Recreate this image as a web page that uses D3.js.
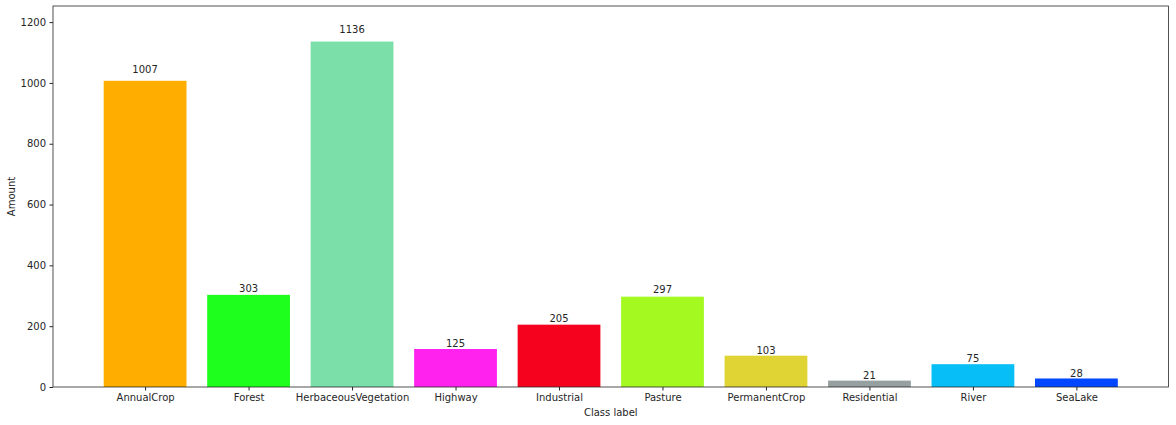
<!DOCTYPE html>
<html>
<head>
<meta charset="utf-8">
<script src="https://cdn.jsdelivr.net/npm/d3@7"></script>
<style>
  body { margin: 0; background: #fff; }
  svg text { font-family: "DejaVu Sans", sans-serif; fill: #262626; }
  .axis path, .axis line { stroke: #262626; }
</style>
</head>
<body>
<div id="chart"></div>
<script>
var categories = ["AnnualCrop", "Forest", "HerbaceousVegetation", "Highway", "Industrial",
                  "Pasture", "PermanentCrop", "Residential", "River", "SeaLake"];
var amounts = [1007, 303, 1136, 125, 205, 297, 103, 21, 75, 28];
var colors = ["#ffae00", "#1eff1e", "#7adfa8", "#ff22ee", "#f5031e",
              "#a3f920", "#e0d434", "#97a0a0", "#08bef6", "#0047ff"];
var yTicks = [0, 200, 400, 600, 800, 1000, 1200];

var width = 1176, height = 425;
var plotLeft = 53, plotRight = 1168.5, plotTop = 6, plotBottom = 387;

var svg = d3.select("#chart").append("svg")
    .attr("width", width)
    .attr("height", height);

// matplotlib style: bar positions 0..9, width 0.8, 5% margins
var x = d3.scaleLinear().domain([-0.89, 9.89]).range([plotLeft, plotRight]);
var y = d3.scaleLinear().domain([0, 1253]).range([plotBottom, plotTop]);
var barW = 0.8;

svg.append("g").selectAll("rect")
    .data(amounts)
    .enter()
    .append("rect")
    .attr("x", function(d, i){ return x(i - barW / 2); })
    .attr("width", function(){ return x(barW) - x(0); })
    .attr("y", function(d){ return y(d); })
    .attr("height", function(d){ return y(0) - y(d); })
    .attr("fill", function(d, i){ return colors[i]; });

svg.append("g").selectAll("text")
    .data(amounts)
    .enter()
    .append("text")
    .attr("x", function(d, i){ return x(i); })
    .attr("y", function(d){ return y(d * 1.02) - 1.5; })
    .attr("text-anchor", "middle")
    .attr("font-size", 10)
    .text(function(d){ return d; });

var xAxis = svg.append("g")
    .attr("class", "axis")
    .attr("transform", "translate(0," + plotBottom + ")")
    .call(d3.axisBottom(x)
        .tickValues(d3.range(categories.length))
        .tickFormat(function(i){ return categories[i]; })
        .tickSize(3.5)
        .tickPadding(3.5));
xAxis.select(".domain").remove();

var yAxis = svg.append("g")
    .attr("class", "axis")
    .attr("transform", "translate(" + plotLeft + ",0)")
    .call(d3.axisLeft(y).tickValues(yTicks).tickFormat(d3.format("d")).tickSize(3.5).tickPadding(3.5));
yAxis.select(".domain").remove();

svg.selectAll(".axis text").attr("font-size", 10).attr("font-family", "DejaVu Sans, sans-serif").attr("fill", "#262626");

// frame
svg.append("rect")
    .attr("x", plotLeft)
    .attr("y", plotTop)
    .attr("width", plotRight - plotLeft)
    .attr("height", plotBottom - plotTop)
    .attr("fill", "none")
    .attr("stroke", "#262626")
    .attr("stroke-width", 0.8);

svg.append("text")
    .attr("x", (plotLeft + plotRight) / 2)
    .attr("y", 416)
    .attr("text-anchor", "middle")
    .attr("font-size", 10)
    .text("Class label");

svg.append("text")
    .attr("transform", "translate(15," + ((plotTop + plotBottom) / 2) + ") rotate(-90)")
    .attr("text-anchor", "middle")
    .attr("font-size", 10)
    .text("Amount");
</script>
</body>
</html>
